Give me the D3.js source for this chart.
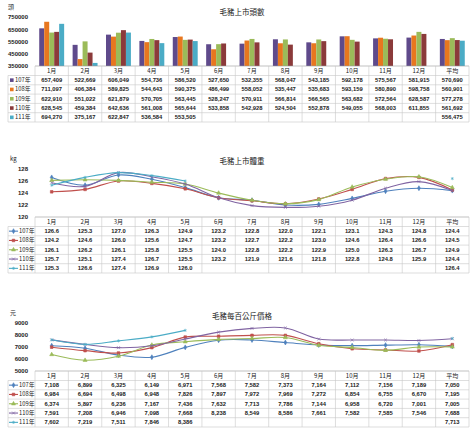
<!DOCTYPE html>
<html>
<head>
<meta charset="utf-8">
<script src="https://cdn.jsdelivr.net/npm/d3@7"></script>
<style>
body { margin: 0; background: #fff; }
svg { display: block; }
text { font-family: "Noto Sans CJK TC", "Noto Sans", sans-serif; fill: #222; }
</style>
</head>
<body>
<svg id="chart" width="474" height="438"></svg>
<script>
// categories
const months = ["1月","2月","3月","4月","5月","6月","7月","8月","9月","10月","11月","12月","平均"];
const years = ["107年","108年","109年","110年","111年"];

// 毛豬上市頭數
const heads107 = [657409,522669,606049,554736,586520,527650,532355,568047,543185,592178,575567,581915,570690];
const heads108 = [711097,406384,589825,544643,590375,486499,558052,535447,535683,593159,580890,598758,560901];
const heads109 = [622910,551022,621879,570705,563445,528247,570911,566814,566565,563682,572564,628587,577278];
const heads110 = [628545,459384,642636,561008,565644,533858,542928,524504,552878,549055,568003,611855,561692];
const heads111 = [694270,375167,622847,536584,553505,null,null,null,null,null,null,null,556475];
const headTicks = [350000,450000,550000,650000,750000];

// 毛豬上市體重
const weight107 = [126.6,125.3,127.0,126.3,124.9,123.2,122.8,122.0,122.1,123.1,124.3,124.8,124.4];
const weight108 = [124.2,124.6,126.0,125.6,124.7,123.2,122.7,122.2,123.0,124.6,126.4,126.6,124.5];
const weight109 = [126.1,126.2,126.1,125.8,125.5,124.0,122.8,122.2,122.9,125.0,126.3,126.7,124.9];
const weight110 = [125.7,125.1,127.4,126.7,125.5,123.2,121.9,121.6,121.8,122.8,124.8,125.9,124.4];
const weight111 = [125.3,126.6,127.4,126.9,126.0,null,null,null,null,null,null,null,126.4];
const weightTicks = [120,122,124,126,128];

// 毛豬每百公斤價格
const price107 = [7108,6899,6325,6149,6971,7568,7582,7373,7164,7112,7156,7189,7050];
const price108 = [6984,6694,6498,6948,7826,7897,7972,7969,7272,6854,6755,6670,7195];
const price109 = [6374,5897,6236,7167,7436,7632,7713,7786,7144,6958,6720,7001,7005];
const price110 = [7591,7208,6946,7098,7668,8238,8549,8586,7661,7582,7585,7546,7688];
const price111 = [7602,7219,7511,7846,8386,null,null,null,null,null,null,null,7713];
const priceTicks = [5000,6000,7000,8000,9000];

const barColors = ["#5f4a8b","#e8771f","#9bbb59","#8b3a3a","#4bacc6"];
const lineColors = ["#4f81bd","#c0504d","#9bbb59","#8064a2","#4bacc6"];
const symbols = [d3.symbolDiamond, d3.symbolSquare, d3.symbolTriangle, d3.symbolX, d3.symbolAsterisk];

const svg = d3.select("#chart");
const x = d3.scaleBand().domain(months).range([35, 469]);
const gridColor = "#c8c8c8";
const headH = 9.5, rowH = 9.3;

function drawPanel(opt) {
  const g = svg.append("g");
  const y = d3.scaleLinear().domain(d3.extent(opt.ticks)).range([opt.bottom, opt.top]);

  g.append("text").attr("x", opt.unitX).attr("y", opt.top - 8)
    .attr("font-size", 6).text(opt.unit);
  g.append("text").attr("x", 242).attr("y", opt.titleY).attr("text-anchor", "middle")
    .attr("font-size", 7.5).text(opt.title);

  const yAxis = g.append("g").attr("transform", "translate(35,0)")
    .call(d3.axisLeft(y).tickValues(opt.ticks).tickSize(0).tickPadding(7).tickFormat(d3.format("d")));
  yAxis.select(".domain").remove();
  yAxis.selectAll("text").attr("font-size", 6).attr("font-weight", "bold")
    .style("font-family", "'Liberation Sans', sans-serif").attr("fill", "#333");

  if (opt.type === "bar") {
    const xs = d3.scaleBand().domain(years).range([0, x.bandwidth()]).paddingOuter(0.85);
    opt.series.forEach((vals, i) => {
      g.append("g").selectAll("rect")
        .data(months.map((m, j) => ({m, v: vals[j]})).filter(d => d.v != null))
        .join("rect")
        .attr("x", d => x(d.m) + xs(years[i]))
        .attr("width", xs.bandwidth())
        .attr("y", d => y(d.v))
        .attr("height", d => y(opt.ticks[0]) - y(d.v))
        .attr("fill", barColors[i]);
    });
  } else {
    const cx = m => x(m) + x.bandwidth() / 2;
    opt.series.forEach((vals, i) => {
      const pts = months.map((m, j) => ({m, v: vals[j]}));
      const line = d3.line().defined(d => d.v != null)
        .x(d => cx(d.m)).y(d => y(d.v)).curve(d3.curveCatmullRom);
      g.append("path").attr("d", line(pts)).attr("fill", "none")
        .attr("stroke", lineColors[i]).attr("stroke-width", 1.1);
      g.append("g").selectAll("path")
        .data(pts.filter(d => d.v != null))
        .join("path")
        .attr("transform", d => `translate(${cx(d.m)},${y(d.v)})`)
        .attr("d", d3.symbol(symbols[i], 7))
        .attr("fill", lineColors[i]).attr("stroke", lineColors[i]).attr("stroke-width", 0.6);
    });
  }

  // data table
  const t0 = opt.bottom;
  const tEnd = t0 + headH + rowH * years.length;
  const tg = g.append("g").attr("stroke", gridColor).attr("stroke-width", 0.6);
  tg.append("line").attr("x1", 35).attr("x2", 469).attr("y1", t0).attr("y2", t0).attr("stroke", "#999");
  for (let r = 0; r <= years.length; r++) {
    const yy = t0 + headH + r * rowH;
    tg.append("line").attr("x1", 8).attr("x2", 469).attr("y1", yy).attr("y2", yy);
  }
  tg.append("line").attr("x1", 8).attr("x2", 8).attr("y1", t0 + headH).attr("y2", tEnd);
  months.concat([null]).forEach((m, j) => {
    const xx = 35 + j * x.step();
    tg.append("line").attr("x1", xx).attr("x2", xx).attr("y1", t0).attr("y2", tEnd);
  });

  g.append("g").selectAll("text").data(months).join("text")
    .attr("x", m => x(m) + x.bandwidth() / 2).attr("y", t0 + headH / 2 + 2)
    .attr("text-anchor", "middle").attr("font-size", 6).text(m => m);

  opt.series.forEach((vals, i) => {
    const ry = t0 + headH + i * rowH + rowH / 2;
    const lg = g.append("g");
    if (opt.type === "bar") {
      lg.append("rect").attr("x", 10).attr("y", ry - 1.8).attr("width", 3.6).attr("height", 3.6)
        .attr("fill", barColors[i]);
    } else {
      lg.append("line").attr("x1", 9).attr("x2", 18).attr("y1", ry).attr("y2", ry)
        .attr("stroke", lineColors[i]).attr("stroke-width", 1.1);
      lg.append("path").attr("transform", `translate(13.5,${ry})`)
        .attr("d", d3.symbol(symbols[i], 7)).attr("fill", lineColors[i])
        .attr("stroke", lineColors[i]).attr("stroke-width", 0.6);
    }
    lg.append("text").attr("x", opt.type === "bar" ? 15 : 19).attr("y", ry + 2)
      .attr("font-size", 5.8).attr("fill", "#555").text(years[i]);

    g.append("g").selectAll("text")
      .data(months.map((m, j) => ({m, v: vals[j]})).filter(d => d.v != null))
      .join("text")
      .attr("x", d => x(d.m) + x.bandwidth() / 2).attr("y", ry + 2)
      .attr("text-anchor", "middle").attr("font-size", 5.8).attr("font-weight", "bold")
      .style("font-family", "'Liberation Sans', sans-serif")
      .text(d => opt.fmt(d.v));
  });
}

drawPanel({
  type: "bar", unit: "頭", unitX: 8, title: "毛豬上市頭數", titleY: 15,
  top: 17, bottom: 66, ticks: headTicks,
  series: [heads107, heads108, heads109, heads110, heads111], fmt: d3.format(",")
});
drawPanel({
  type: "line", unit: "kg", unitX: 10, title: "毛豬上市體重", titleY: 164,
  top: 169, bottom: 217, ticks: weightTicks,
  series: [weight107, weight108, weight109, weight110, weight111], fmt: d3.format(".1f")
});
drawPanel({
  type: "line", unit: "元", unitX: 10, title: "毛豬每百公斤價格", titleY: 319,
  top: 323, bottom: 371, ticks: priceTicks,
  series: [price107, price108, price109, price110, price111], fmt: d3.format(",")
});
</script>
</body>
</html>
